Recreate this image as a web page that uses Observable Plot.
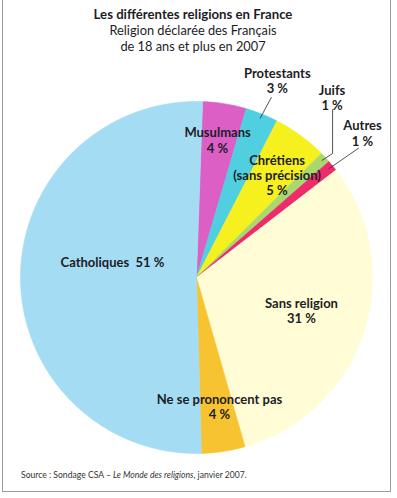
<!DOCTYPE html>
<html><head><meta charset="utf-8">
<script src="https://cdn.jsdelivr.net/npm/d3@7"></script>
<script src="https://cdn.jsdelivr.net/npm/@observablehq/plot@0.6"></script>
<style>
body{margin:0;background:#fff;font-family:Lato,"Open Sans",sans-serif;color:#1d1d26;}
#wrap{position:relative;width:397px;height:498px;overflow:hidden;background:#fff;}
#frame{position:absolute;left:2px;top:-2px;width:387px;height:493px;border:1px solid #9c9c9c;border-top:none;}
.t{position:absolute;left:0;width:386px;text-align:center;line-height:16px;white-space:nowrap;}
#title{top:6px;font-weight:700;font-size:13.2px;}
#sub{top:22px;font-size:12.8px;}
#chart{position:absolute;left:0;top:60px;}
#src{position:absolute;left:21px;top:469px;font-size:8.6px;line-height:12px;color:#333;white-space:nowrap;}
</style></head>
<body>
<div id="wrap">
<div id="frame"></div>
<div class="t" id="title">Les différentes religions en France</div>
<div class="t" id="sub">Religion déclarée des Français<br>de 18 ans et plus en 2007</div>
<div id="chart"></div>
<div id="src">Source : Sondage CSA – <i>Le Monde des religions</i>, janvier 2007.</div>
</div>
<script>
// ---- data ----
const names = ["Musulmans","Protestants","Chrétiens (sans précision)","Juifs","Autres","Sans religion","Ne se prononcent pas","Catholiques"];
const shares = [4,3,5,1,1,31,4,51];
const colors = ["#dc5fc6","#4fcfe0","#f6f01e","#a9d86e","#ef2b6b","#fffcd6","#f8c331","#a3dcf3"];
const labelLines = [["Musulmans","4 %"],["Protestants","3 %"],["Chrétiens","(sans précision)","5 %"],["Juifs","1 %"],["Autres","1 %"],["Sans religion","31 %"],["Ne se prononcent pas","4 %"],["Catholiques  51 %"]];

// ---- layout ----
const W = 397, H = 400, R = 176, startAngle = 2;
const labelLayout = [
  {rf:0.79, da:-0.5},
  {rf:1.21, da:0.5, leader:[-6,17]},
  {rf:0.74, da:2},
  {rf:1.28, da:-10, leader:[0.5,12], elbow:true},
  {rf:1.25, da:-1.6, leader:[-4,15]},
  {rf:0.625, da:-0.8},
  {rf:0.745, da:-1.3},
  {rf:0.485, da:10}
];

const rad = d => d * Math.PI / 180;
const pt = (a, r) => [r * Math.sin(rad(a)), r * Math.cos(rad(a))];
const total = d3.sum(shares);
let acc = startAngle;
const slices = names.map((n, i) => {
  const a0 = acc, a1 = acc + shares[i] / total * 360;
  acc = a1;
  return {name: n, a0, a1, mid: (a0 + a1) / 2, i};
});

// polygon points for each slice
const polys = [];
for (const s of slices) {
  polys.push({name: s.name, x: 0, y: 0});
  const steps = Math.max(2, Math.ceil((s.a1 - s.a0) / 0.5));
  for (let k = 0; k <= steps; k++) {
    const a = s.a0 + (s.a1 - s.a0) * k / steps;
    const [x, y] = pt(a, R);
    polys.push({name: s.name, x, y});
  }
  polys.push({name: s.name, x: 0, y: 0});
}

const labels = slices.map(s => {
  const L = labelLayout[s.i];
  const [x, y] = pt(s.mid + L.da, R * L.rf);
  return {x, y, text: labelLines[s.i].join("\n"), s, L};
});

const leaders = [];
for (const lb of labels) {
  const L = lb.L;
  if (!L.leader) continue;
  const [ex, ey] = pt(lb.s.mid, R * 0.975);
  const sx = lb.x + L.leader[0], sy = lb.y - L.leader[1];
  leaders.push({id: lb.s.name, x: sx, y: sy});
  if (L.elbow) leaders.push({id: lb.s.name, x: sx, y: ey + 7});
  leaders.push({id: lb.s.name, x: ex, y: ey});
}

const chart = Plot.plot({
  width: W, height: H,
  margin: 0,
  x: {domain: [-196, W - 196], range: [0, W], axis: null},
  y: {domain: [-(H - 217), 217], range: [H, 0], axis: null},
  color: {domain: names, range: colors},
  style: {fontFamily: "Lato, 'Open Sans', sans-serif", background: "transparent", overflow: "visible"},
  marks: [
    Plot.line(polys, {x: "x", y: "y", z: "name", fill: "name", stroke: "name", strokeWidth: 0.6, curve: "linear"}),
    Plot.line(leaders, {x: "x", y: "y", z: "id", stroke: "#2a2a30", strokeWidth: 0.8}),
    Plot.text(labels, {x: "x", y: "y", text: "text", fontSize: 13, fontWeight: 700, lineHeight: 1.18, fill: "#1d1d26"})
  ]
});
document.getElementById("chart").appendChild(chart);
</script>
</body></html>
